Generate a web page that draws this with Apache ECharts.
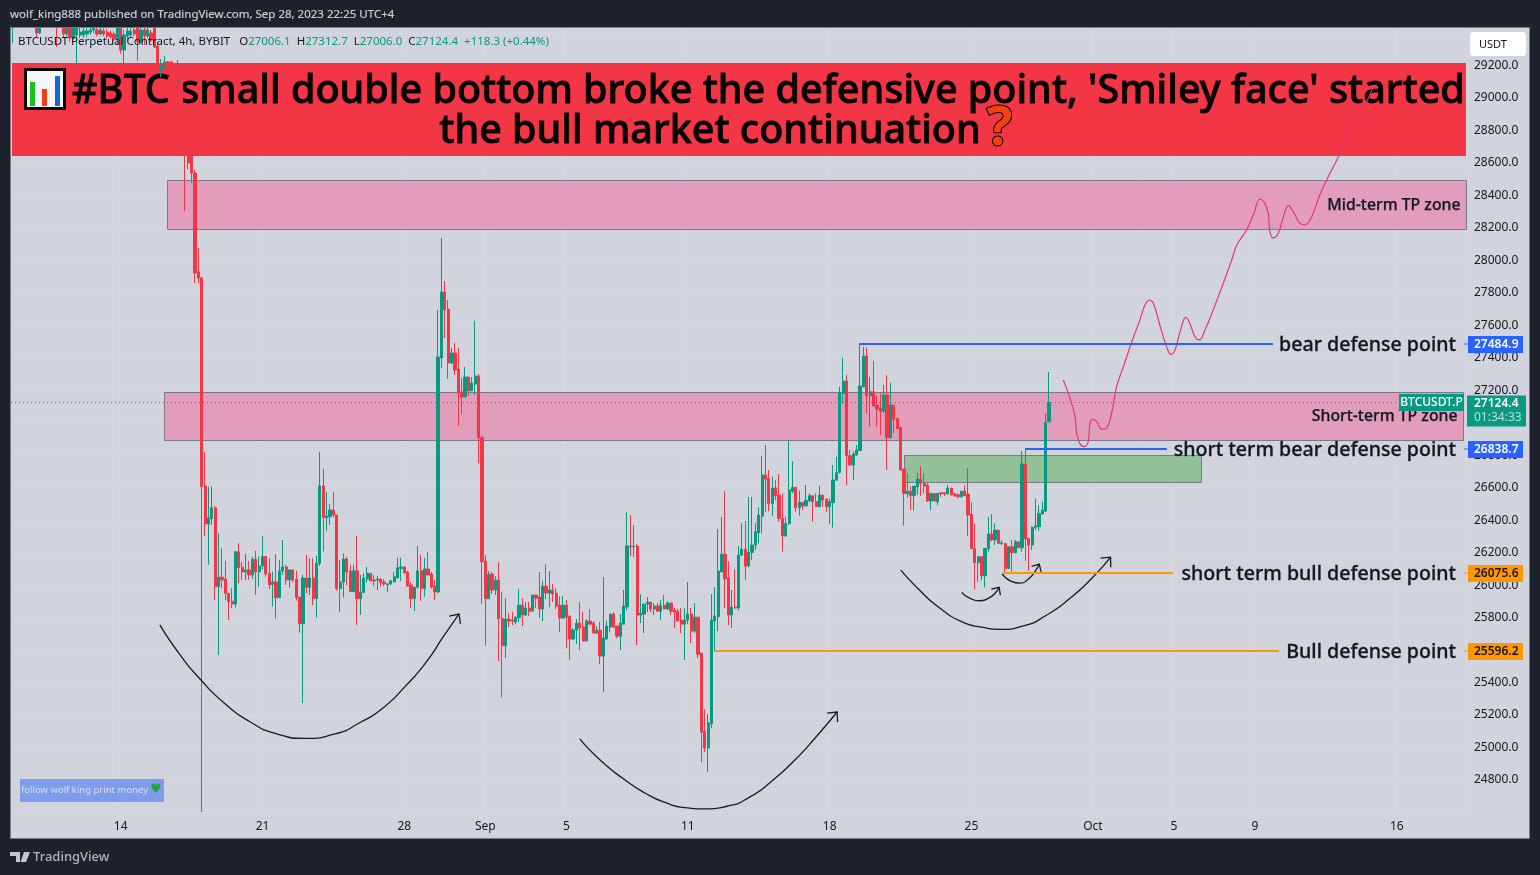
<!DOCTYPE html>
<html lang="en">
<head>
<meta charset="UTF-8">
<title>BTCUSDT</title>
<script src="https://cdn.jsdelivr.net/npm/echarts@6/dist/echarts.min.js"></script>
<style>
    *{margin:0;padding:0;}
    html,body{width:100%;height:100%;overflow:hidden;background:#1e222d;}
    .container{width:1540px;height:875px;}
</style>
</head>
<body>
<div class="container"></div>
<script>
// candles are [open, close, low, high], one row per 4h bar
const barsMidAug=[
[29480,29520,29339,29560],[29520,29560,29470,29600],[29560,29540,29500,29620],[29540,29580,29510,29630],
[29580,29550,29500,29610],[29550,29600,29520,29650],[29600,29560,29500,29640],[29500,29400,29369,29560],
[29400,29500,29395,29540],[29500,29540,29470,29580],[29540,29510,29460,29590],[29510,29540,29480,29570],
[29540,29500,29450,29580],[29500,29470,29314,29550],[29470,29500,29440,29540],[29500,29394,29370,29540],
[29394,29480,29380,29510],[29480,29369,29345,29520],[29369,29450,29360,29500],[29388,29470,29216,29510],
[29388,29406,29370,29440],[29388,29413,29370,29440],[29394,29413,29375,29430],[29406,29419,29390,29450],
[29419,29440,29400,29470],[29419,29394,29380,29450],[29394,29419,29385,29440],[29413,29394,29380,29430],
[29406,29382,29370,29425],[29400,29376,29365,29415],[29394,29363,29350,29410],[29357,29440,29326,29480],
[29440,29296,29271,29470],[29296,29388,29080,29420],[29382,29413,29357,29440],[29388,29413,29375,29435],
[29419,29394,29380,29440],[29440,29345,29228,29480],[29345,29419,29335,29450],[29419,29382,29326,29450],
[29382,29419,29370,29440],[29400,29357,29345,29420],[29440,29314,29308,29480],[29320,29216,29210,29335],
[29172,29191,29129,29240],[29191,29222,29185,29258],[29222,29216,29210,29228],[29222,29100,29080,29230],
[29100,29080,29050,29110],[29100,29110,28945,29234],[29110,28800,28750,29125],[28800,28660,28304,28820],
[28660,28600,28560,28680],[28643,28538,28477,28660],[28538,27922,27860,28560],[27929,27892,27860,28076]
];
const barsLateAug=[
[27892,26607,24603,27900],[26611,26377,26303,26820],[26377,26414,26125,26607],[26410,26476,26371,26607],
[26476,25991,25909,26488],[25991,26049,25570,26320],[26049,26032,25981,26227],[26038,25950,25909,26149],
[25950,25899,25786,25950],[25901,25884,25858,25981],[25884,26205,25862,26211],[26205,26108,26012,26258],
[26110,26081,26032,26143],[26081,26094,26032,26192],[26094,26063,26032,26149],[26063,26159,26038,26176],
[26159,26081,25940,26211],[26081,26118,25991,26176],[26118,26176,26094,26303],[26176,26069,26053,26180],
[26073,26003,25975,26166],[26003,26020,25868,26083],[26020,25923,25794,26192],[25923,26088,25923,26155],
[26088,26112,26063,26278],[26112,26032,26001,26125],[26032,26094,25985,26094],[26094,26032,26016,26094],
[26038,25923,25905,26088],[25927,25763,25708,25927],[25763,26044,25274,26063],[26044,25987,25950,26186],
[25987,26044,25940,26165],[26044,25917,25878,26165],[25917,26135,25800,26180],[26135,26611,26118,26820],
[26611,26416,26207,26716],[26416,26426,26334,26574],[26422,26463,26371,26500],[26463,26432,26418,26574],
[26432,25979,25967,26432],[25979,26020,25835,26155],[26020,26161,25923,26196],[26161,26081,26001,26174],
[26088,25960,25960,26125],[25960,26088,25960,26125],[26088,25917,25755,26303],[25917,25956,25817,26063],
[25956,26044,25950,26073],[26038,26073,26016,26112],[26073,26026,26026,26073],[26032,26026,25995,26063],
[26032,26038,25970,26057],[26038,26016,25991,26044],[26020,26008,25995,26038],[26003,26008,25958,26008],
[26008,26026,26000,26032],[26020,26051,26016,26081],[26044,26106,26044,26168],[26102,26112,26026,26168],
[26112,26075,26073,26118],[26081,25995,25991,26088],[26001,25917,25860,26020],[25917,25987,25841,25987],
[25987,26088,25979,26242],[26088,25979,25903,26186],[25979,26100,25929,26168],[26100,26063,26063,26205],
[26069,25989,25979,26081],[25995,25958,25909,26032],[25958,27405,25950,27694],[27399,27805,27337,28138],
[27805,27694,27522,27873],[27700,27368,27270,27756],[27368,27430,27362,27460],[27430,27325,27294,27491],
[27331,27183,26980,27460],[27190,27159,27054,27276],[27159,27282,27159,27343],[27282,27196,27165,27282],
[27196,27245,27196,27282],[27239,27288,27171,27627],[27288,26907,26751,27300],[26907,26144,25884,26920]
];
const barsEarlySep=[
[26148,25916,25627,26185],[25916,26068,25916,26087],[26068,25970,25945,26081],[25970,26031,25939,26056],
[26031,25793,25532,26142],[25795,25627,25307,25957],[25627,25791,25551,25920],[25791,25779,25742,25828],
[25785,25779,25754,25834],[25773,25803,25760,25803],[25799,25877,25773,25976],[25877,25816,25748,25920],
[25816,25859,25810,25896],[25859,25840,25810,25896],[25840,25939,25840,25939],[25939,25920,25859,25939],
[25927,25853,25797,26081],[25853,25994,25779,26025],[25994,25951,25914,26130],[25951,25970,25865,26087],
[25970,25945,25896,26007],[25951,25871,25853,25982],[25877,25797,25711,25933],[25797,25877,25797,25933],
[25877,25803,25612,25908],[25810,25668,25539,25810],[25668,25723,25662,25736],[25723,25766,25637,25791],
[25766,25736,25600,25896],[25742,25656,25656,25834],[25656,25779,25656,25791],[25779,25760,25760,25853],
[25766,25705,25705,25779],[25705,25723,25699,25748],[25723,25563,25514,25773],[25563,25674,25341,26050],
[25668,25748,25668,25779],[25742,25822,25711,25822],[25822,25742,25736,25834],[25748,25686,25674,25748],
[25686,25766,25600,25822],[25760,25871,25760,25970],[25865,26241,25846,26450],[26241,26237,26179,26432],
[26237,26241,26173,26370],[26241,25816,25631,26253],[25816,25828,25766,25945],[25822,25883,25705,25883],
[25883,25896,25834,25927],[25896,25853,25834,25896],[25853,25871,25816,25890],[25871,25840,25834,25890],
[25840,25877,25785,25908],[25877,25853,25853,25939],[25853,25890,25847,25902],[25890,25840,25816,25890],
[25846,25834,25736,25859],[25840,25779,25779,25853],[25785,25760,25705,25859],[25760,25785,25539,25859],
[25785,25822,25760,26019],[25822,25717,25643,25859],[25717,25803,25705,25890],[25803,25575,25551,25803],
[25581,25095,24910,25581],[25101,24997,24972,25237],[24997,25151,24849,25206],[25146,25785,25120,25945],
[25781,25810,25594,25988],[25805,26087,25717,26345],[26081,26191,26081,26419],[26191,26039,25859,26580],
[26044,25816,25754,26148],[25816,25865,25736,25970],[25865,25859,25859,26099],[25859,26185,25846,26241],
[26185,26222,26179,26382],[26222,26117,26031,26395]
];
const barsLateSep=[
[26120,26202,26109,26544],[26202,26247,26154,26544],[26247,26329,26216,26384],[26323,26432,26257,26480],
[26425,26678,26319,26795],[26678,26653,26452,26863],[26659,26503,26456,26709],[26503,26596,26425,26668],
[26600,26551,26524,26647],[26555,26411,26391,26684],[26411,26304,26206,26565],[26304,26380,26298,26421],
[26380,26586,26370,26887],[26579,26602,26565,26764],[26602,26477,26452,26602],[26477,26510,26428,26581],
[26510,26487,26462,26510],[26489,26522,26483,26616],[26518,26551,26514,26565],[26551,26514,26391,26551],
[26514,26483,26483,26565],[26483,26555,26479,26612],[26555,26524,26483,26555],[26530,26483,26452,26534],
[26483,26514,26376,26534],[26508,26647,26354,26739],[26647,26694,26643,26791],[26694,27187,26688,27222],
[27181,27257,27119,27399],[27257,26797,26616,27294],[26797,26740,26733,26832],[26740,26807,26647,26822],
[26801,26832,26795,26863],[26828,27226,26828,27485],[27222,27411,27218,27468],[27411,27167,27058,27464],
[27167,27191,26976,27284],[27191,27103,27100,27380],[27109,27084,26976,27171],[27089,27072,26924,27181],
[27072,27171,27060,27232],[27171,26908,26709,27294],[26908,27109,26904,27247],[27109,27021,26935,27109],
[27027,26965,26961,27027],[26971,26709,26709,26971],[26715,26565,26366,26715],[26563,26579,26538,26688],
[26579,26551,26462,26610],[26551,26610,26460,26610],[26606,26653,26557,26692],[26653,26627,26551,26733],
[26627,26610,26565,26688],[26616,26518,26514,26627],[26518,26565,26462,26565],[26565,26518,26514,26565],
[26512,26565,26493,26565],[26569,26563,26544,26573],[26569,26563,26548,26573],[26563,26598,26555,26616],
[26598,26557,26551,26598],[26563,26551,26544,26569],[26557,26544,26534,26565],[26544,26579,26538,26579],
[26579,26551,26551,26616],[26561,26432,26304,26721],[26436,26226,26226,26510],[26226,26138,25974,26380],
[26138,26175,26021,26175],[26175,26058,26031,26175],[26058,26226,25986,26226],[26226,26315,26202,26421],
[26315,26278,26270,26438],[26278,26339,26247,26380],[26339,26257,26257,26339],[26257,26261,26247,26277],
[26257,26103,26072,26257],[26103,26237,26100,26237],[26237,26200,26083,26278],[26200,26267,26196,26278],
[26267,26230,26230,26267],[26230,26746,26206,26826],[26746,26284,26150,26838],[26288,26247,26089,26288],
[26247,26356,26216,26360],[26356,26366,26340,26534],[26360,26442,26333,26493],[26438,26462,26438,26514],
[26456,27002,26452,27058],[27006.1,27124.4,27006.0,27312.7]
];
const candles=[...barsMidAug,...barsLateAug,...barsEarlySep,...barsLateSep];

// axis
const barCount=431;
const dayBars=[32,74,116,140,164,200,242,284,320,344,368,410];
const dayLabels=['14','21','28','Sep','5','11','18','25','Oct','5','9','16'];
const barNames=Array.from({length:barCount},(_,i)=>'b'+i);

// drawn zones, x in bar units on the overlay axis
const zoneStarts=[46.2,45.3,264.5];
const zoneEnds=[431,430.1,352.5];
const zoneLows=[28196,26894,26635];
const zoneHighs=[28492,27190,26802];
const zoneNames=['Mid-term TP zone','Short-term TP zone',''];

// horizontal levels
const levelStarts=[251.2,300.4,293.8,208.5];
const levelEnds=[373.8,342.4,344.2,375.6];
const levelPrices=[27484.9,26838.7,26075.6,25596.2];
const levelNames=['bear defense point','short term bear defense point','short term bull defense point','Bull defense point'];

const lastPrice=27124.4;

// hand drawn curves [bar, price]
const arcOne=[[44.1,25755],[50.1,25570],[56,25422],[63.4,25270],[70.8,25159],[78.2,25088],[87.1,25057],[96,25084],[103.4,25154],[110.2,25244],[116.7,25375],[123.2,25532],[128,25681],[132.7,25822]];
const arcTwo=[[168.5,25053],[174.5,24923],[181.9,24800],[187.8,24720],[193.7,24662],[199.6,24630],[205.6,24622],[212.4,24640],[218.9,24696],[225.4,24794],[232.2,24923],[238.2,25059],[244.7,25219]];
const arcThree=[[263.6,26093],[269.3,25966],[275.2,25858],[281.6,25775],[287.5,25741],[293.5,25728],[299.9,25749],[306.8,25816],[313.7,25919],[320.6,26052],[325.7,26172]];
const arcSmallA=[[281.6,25956],[284.1,25919],[287,25904],[289.5,25919],[291.5,25950],[292.7,25987]];
const arcSmallB=[[293.6,26069],[295.9,26028],[298.9,26012],[301.3,26036],[303.3,26083],[304.6,26130]];
const arcs=[arcOne,arcTwo,arcThree,arcSmallA,arcSmallB];
const forecastPath=[[311.7,27263],[313.7,27150],[315.2,27038],[315.7,26935],[316.6,26873],[317.8,26853],[319.1,26884],[319.6,26996],
[320.4,27021],[321.6,27007],[323.1,26960],[324.5,26966],[326,27058],[327.5,27222],[329.5,27345],[332,27499],[334.4,27633],[335.9,27725],
[337.2,27756],[338.4,27736],[340.3,27602],[342.3,27469],[343.6,27421],[344.8,27448],[346.3,27561],[348,27649],[349.2,27612],[350.7,27530],
[352,27510],[353.7,27571],[356.1,27694],[359.1,27859],[361.6,28002],[363.1,28095],[366,28187],[368,28280],[370,28378],[371.4,28351],
[372.4,28290],[372.9,28177],[373.9,28138],[375.4,28167],[376.9,28269],[378.4,28337],[379.8,28300],[381.8,28228],[383.3,28218],[385.3,28269],
[387.7,28403],[390.7,28536],[393.7,28659],[396.6,28803],[401.1,28957],[403.5,29070]];

const UP='#089981',DOWN='#f23645',BLUE='#2962ff',ORANGE='#ff9800';
const FONT='"Noto Sans",sans-serif';

let mychart=echarts.init(document.querySelector('.container'));

function zoneItem(params,api){
    let i=params.dataIndex;
    let a=api.coord([api.value(0),api.value(3)]).map(v=>Math.round(v)+.5);
    let b=api.coord([api.value(1),api.value(2)]).map(v=>Math.round(v)+.5);
    let kids=[{type:'rect',shape:{x:a[0],y:a[1],width:b[0]-a[0],height:b[1]-a[1]},
        style:{fill:i==2?'#91c197':'#e19db9',stroke:'#787b86',lineWidth:1}}];
    if(zoneNames[i]){
        kids.push({type:'text',style:{x:b[0]-6,y:(a[1]+b[1])/2,text:zoneNames[i],align:'right',verticalAlign:'middle',
            fill:'#131722',stroke:'#131722',lineWidth:.25,font:'500 15.8px '+FONT}});
    }
    return {type:'group',children:kids};
}

function levelItem(params,api){
    let i=params.dataIndex;
    let a=api.coord([api.value(0),api.value(2)]);
    let b=api.coord([api.value(1),api.value(2)]);
    let y=Math.round(a[1]);
    let right=params.coordSys.x+params.coordSys.width;
    let color=i<2?BLUE:ORANGE;
    return {type:'group',children:[
        {type:'line',shape:{x1:a[0],y1:y,x2:b[0],y2:y},style:{stroke:color,lineWidth:2}},
        {type:'text',style:{x:right-10,y:y+1,text:levelNames[i],align:'right',verticalAlign:'middle',fill:'#131722',stroke:'#131722',lineWidth:.3,font:'500 19.6px '+FONT}},
        {type:'line',shape:{x1:right-2,y1:y,x2:right+2,y2:y},style:{stroke:color,lineWidth:1}},
        {type:'rect',shape:{x:right+2,y:y-8,width:55,height:17},style:{fill:color}},
        {type:'text',style:{x:right+8,y:y+1,text:api.value(2).toFixed(1),align:'left',verticalAlign:'middle',
            fill:i<2?'#ffffff':'#131722',font:'600 12px '+FONT}}
    ]};
}

function lastItem(params,api){
    let y=api.coord([0,api.value(1)])[1];
    let right=params.coordSys.x+params.coordSys.width;
    return {type:'group',children:[
        {type:'rect',shape:{x:right-67,y:y-8.5,width:65,height:17},style:{fill:UP}},
        {type:'text',style:{x:right-34.5,y:y+.5,text:'BTCUSDT.P',align:'center',verticalAlign:'middle',fill:'#ffffff',font:'500 12px '+FONT}},
        {type:'rect',shape:{x:right+1,y:y-7,width:59,height:31},style:{fill:UP}},
        {type:'text',style:{x:right+8,y:y+1.5,text:api.value(1).toFixed(1),align:'left',verticalAlign:'middle',fill:'#ffffff',font:'600 12px '+FONT}},
        {type:'text',style:{x:right+8,y:y+15.5,text:'01:34:33',align:'left',verticalAlign:'middle',fill:'#b7e0d9',font:'12px '+FONT}}
    ]};
}

function headItem(params,api){
    let p=api.coord([api.value(0),api.value(1)]);
    let q=api.coord([api.value(2),api.value(3)]);
    let ang=Math.atan2(p[1]-q[1],p[0]-q[0]);
    let len=params.dataIndex>2?8:10;
    let l=[p[0]-len*Math.cos(ang-0.75),p[1]-len*Math.sin(ang-0.75)];
    let r=[p[0]-len*Math.cos(ang+0.75),p[1]-len*Math.sin(ang+0.75)];
    return {type:'polyline',shape:{points:[l,p,r]},style:{stroke:'#1a1a1f',fill:'none',lineWidth:1.3}};
}

let curveSeries=arcs.map(arc=>({type:'line',xAxisIndex:1,yAxisIndex:0,data:arc,smooth:.6,showSymbol:false,silent:true,z:7,
    lineStyle:{color:'#1a1a1f',width:1.3}}));

let iconBars=[[30,82,5,24,'#19c21a'],[42,89,5,17,'#f23c14'],[55,76,5,30,'#1168d8']];

let options={
    animation:false,
    backgroundColor:'#1e222d',
    textStyle:{fontFamily:FONT},
    grid:{left:11,right:74,top:28,bottom:62.5},
    xAxis:[{
        type:'category',data:barNames,boundaryGap:true,
        axisLine:{show:false},axisTick:{show:false},
        axisLabel:{
            interval:(i)=>dayBars.includes(i),
            formatter:(v,i)=>dayLabels[dayBars.indexOf(i)]||'',
            color:'#131722',fontSize:12,margin:8,hideOverlap:false
        },
        splitLine:{show:true,interval:(i)=>dayBars.includes(i),lineStyle:{color:'#d5d8df',width:1}}
    },{
        type:'value',min:0,max:barCount,show:false,splitLine:{show:false}
    }],
    yAxis:{
        type:'value',position:'right',min:24600,max:29431,interval:200,scale:true,
        axisLine:{show:false},axisTick:{show:false},
        axisLabel:{color:'#131722',fontSize:12,margin:8,padding:[4,0,0,0],showMinLabel:false,showMaxLabel:false,
            formatter:(v)=>v>29300?'':v.toFixed(1)},
        splitLine:{lineStyle:{color:'#d5d8df',width:1}}
    },
    series:[
        {type:'custom',name:'zones',xAxisIndex:1,yAxisIndex:0,z:3,silent:true,renderItem:zoneItem,
            data:zoneStarts.map((s,i)=>[s,zoneEnds[i],zoneLows[i],zoneHighs[i]])},
        {type:'candlestick',name:'BTCUSDT.P',xAxisIndex:0,yAxisIndex:0,z:5,barWidth:2.7,clip:true,
            data:candles,
            itemStyle:{color:UP,color0:DOWN,borderColor:UP,borderColor0:DOWN,borderWidth:1}},
        {type:'line',name:'last',xAxisIndex:1,yAxisIndex:0,z:6,silent:true,showSymbol:false,
            data:[[0,lastPrice],[barCount,lastPrice]],
            lineStyle:{color:UP,width:1,type:[1,3]}},
        ...curveSeries,
        {type:'line',name:'forecast',xAxisIndex:1,yAxisIndex:0,z:8,silent:true,showSymbol:false,smooth:.4,
            data:forecastPath,lineStyle:{color:'#e6386f',width:1.2}},
        {type:'custom',name:'arrows',xAxisIndex:1,yAxisIndex:0,z:8,silent:true,renderItem:headItem,
            data:arcs.map(a=>[a[a.length-1][0],a[a.length-1][1],a[a.length-2][0],a[a.length-2][1]])},
        {type:'custom',name:'levels',xAxisIndex:1,yAxisIndex:0,z:9,silent:true,clip:false,renderItem:levelItem,
            data:levelPrices.map((p,i)=>[levelStarts[i],levelEnds[i],p])},
        {type:'custom',name:'lastTag',xAxisIndex:1,yAxisIndex:0,z:10,silent:true,clip:false,renderItem:lastItem,
            data:[[barCount,lastPrice]]}
    ],
    graphic:{elements:[
        // pane behind the chart
        {type:'rect',z:-1,silent:true,shape:{x:10.5,y:27.5,width:1519,height:811},style:{fill:'#d1d4dc',stroke:'#787b86',lineWidth:1}},
        {type:'rect',z:0,silent:true,shape:{x:1466,y:28,width:63,height:810},style:{fill:'#d1d4dc'}},
        // header strip sits over the candles that run off the top
        {type:'rect',z:11,silent:true,shape:{x:0,y:0,width:1540,height:27},style:{fill:'#1e222d'}},
        {type:'line',z:11,silent:true,shape:{x1:10,y1:27.5,x2:1530,y2:27.5},style:{stroke:'#787b86',lineWidth:1}},
        {type:'text',z:12,silent:true,style:{x:10,y:15,text:'wolf_king888 published on TradingView.com, Sep 28, 2023 22:25 UTC+4',
            verticalAlign:'middle',fill:'#c9ccd4',stroke:'#c9ccd4',lineWidth:.2,font:'11.5px '+FONT}},
        // banner
        {type:'rect',z:1,silent:true,shape:{x:12,y:63,width:1454,height:93},style:{fill:DOWN}},
        {type:'text',z:1,silent:true,style:{x:72,y:92,text:"#BTC small double bottom broke the defensive point, 'Smiley face' started",
            verticalAlign:'middle',fill:'#050505',stroke:'#050505',lineWidth:.8,font:'500 39.5px '+FONT}},
        {type:'text',z:1,silent:true,style:{x:710,y:132,text:'the bull market continuation',align:'center',
            verticalAlign:'middle',fill:'#050505',stroke:'#050505',lineWidth:.8,font:'500 39.5px '+FONT}},
        {type:'text',z:1,silent:true,style:{x:999.5,y:130,text:'?',align:'center',verticalAlign:'middle',
            fill:'#f4400f',stroke:'#050505',lineWidth:2,font:'700 54px '+FONT}},
        // chart icon in banner
        {type:'rect',z:1,silent:true,shape:{x:25.5,y:69.5,width:39,height:39},style:{fill:'#f4f6f8',stroke:'#050505',lineWidth:3}},
        ...iconBars.map(b=>({type:'rect',z:1,silent:true,shape:{x:b[0],y:b[1],width:b[2],height:b[3]},style:{fill:b[4]}})),
        // legend line
        {type:'text',z:12,silent:true,style:{x:18,y:42,verticalAlign:'middle',
            text:'{k|BTCUSDT Perpetual Contract, 4h, BYBIT   O}{v|27006.1}{k|  H}{v|27312.7}{k|  L}{v|27006.0}{k|  C}{v|27124.4}{v|  +118.3 (+0.44%)}',
            rich:{k:{fill:'#131722',font:'11.5px '+FONT},v:{fill:UP,font:'11.5px '+FONT}}}},
        // price scale currency button
        {type:'rect',z:12,silent:true,shape:{x:1470,y:32,width:56,height:24,r:3},style:{fill:'#ffffff'}},
        {type:'text',z:13,silent:true,style:{x:1479,y:44.5,text:'USDT',verticalAlign:'middle',fill:'#131722',font:'11px '+FONT}},
        // follow note
        {type:'rect',z:12,silent:true,shape:{x:20,y:779,width:144,height:23},style:{fill:'#7f9ced'}},
        {type:'text',z:13,silent:true,style:{x:21,y:790.5,text:'follow wolf king print money',verticalAlign:'middle',fill:'#d6dff5',font:'9.5px '+FONT}},
        {type:'text',z:13,silent:true,style:{x:150,y:790,text:'♥',verticalAlign:'middle',fill:'#1fa83a',font:'13px "DejaVu Sans"'}},
        // footer
        {type:'polygon',z:12,silent:true,shape:{points:[[10,852],[20,852],[20,862],[16,862],[16,856],[10,856]]},style:{fill:'#c3c6cf'}},
        {type:'polygon',z:12,silent:true,shape:{points:[[24,852],[30,852],[26,862],[20.5,862]]},style:{fill:'#c3c6cf'}},
        {type:'text',z:12,silent:true,style:{x:33,y:857,text:'TradingView',verticalAlign:'middle',fill:'#b2b5be',font:'500 13px '+FONT}}
    ]}
};
mychart.setOption(options);
</script>
</body>
</html>
